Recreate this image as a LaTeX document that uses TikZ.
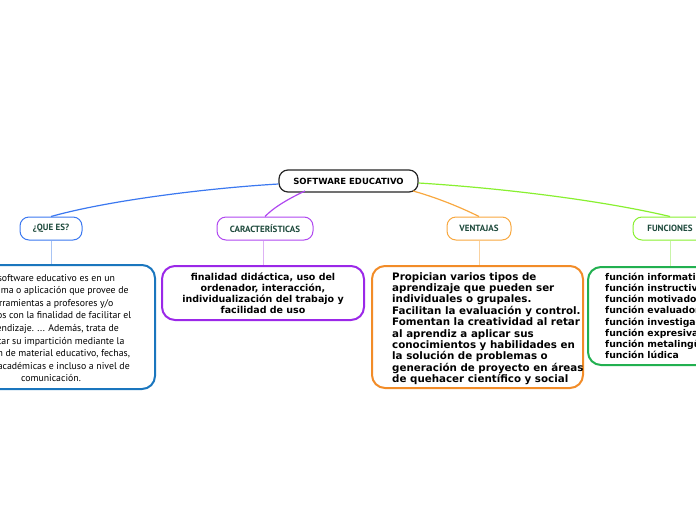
\documentclass[tikz,border=0pt]{standalone}
\usepackage{fontspec}
\setmainfont{DejaVu Sans}
\newfontfamily\labfont{PT Sans}
\newfontfamily\qfont{PT Sans}
\definecolor{cblue}{HTML}{3B78F0}
\definecolor{cbluel}{HTML}{A8C4F4}
\definecolor{cbluebox}{HTML}{1A76BE}
\definecolor{cpurple}{HTML}{B048F0}
\definecolor{cpurplel}{HTML}{DDB2F4}
\definecolor{cpurplebox}{HTML}{9B28E8}
\definecolor{corange}{HTML}{F8A840}
\definecolor{corangel}{HTML}{FAD2A0}
\definecolor{corangebox}{HTML}{F28C28}
\definecolor{cgreen}{HTML}{88F030}
\definecolor{cgreenl}{HTML}{C8F4A8}
\definecolor{cgreenbox}{HTML}{22B050}
\definecolor{labtxt}{HTML}{1E4A3C}
\begin{document}
\begin{tikzpicture}[x=1pt,y=-1pt,
  rootbox/.style={draw=black!85, fill=white, line width=1.2pt, rounded corners=9pt,
    minimum width=139pt, minimum height=22pt, inner sep=0pt,
    font=\fontsize{8.5}{10}\selectfont\bfseries},
  labbox/.style={fill=white, line width=1pt, rounded corners=9pt, minimum height=23pt,
    inner sep=0pt, text=labtxt, font=\fontsize{9}{10}\labfont\bfseries},
  bigbox/.style={fill=white, line width=2pt, rounded corners=13pt, inner sep=0pt},
  boldtxt/.style={inner sep=0pt, font=\fontsize{9.3}{11.1}\selectfont\bfseries},
  link/.style={line width=1.2pt},
  sublink/.style={line width=1pt}
]
\useasboundingbox (0,0) rectangle (696,520);
\clip (0,0) rectangle (696,520);

\coordinate (rw) at (279,184);
\coordinate (rbl) at (305,191);
\coordinate (rbr) at (413,191);
\coordinate (re) at (418,183);

\node[rootbox] (root) at (348.5,181) {SOFTWARE EDUCATIVO};

\node[labbox, draw=cblue, minimum width=62pt] (quees) at (51,228.5) {¿QUE ES?};
\node[labbox, draw=cpurple, minimum width=96pt] (carac) at (265,228.5) {CARACTERÍSTICAS};
\node[labbox, draw=corange, minimum width=64pt] (vent) at (479,228.5) {VENTAJAS};
\node[labbox, draw=cgreen, minimum width=74pt] (func) at (670,228.5) {FUNCIONES};

\draw[link, cblue] (root.west |- rw) .. controls (210,188) and (110,200) .. (quees.north);
\draw[link, cpurple] (rbl) .. controls (290,198) and (274,207) .. (carac.north);
\draw[link, corange] (rbr) .. controls (435,197) and (460,207) .. (vent.north);
\draw[link, cgreen] (root.east |- re) .. controls (500,188) and (600,200) .. (func.north);

\node[bigbox, draw=cbluebox, minimum width=208pt, minimum height=124pt] (qbox) at (51,327) {};
\node[inner sep=0pt, align=center, font=\fontsize{9.8}{12.6}\qfont] (qtext) at (51,328) {El software educativo es en un\\
programa o aplicación que provee de\\
herramientas a profesores y/o\\
alumnos con la finalidad de facilitar el\\
aprendizaje. ... Además, trata de\\
facilitar su impartición mediante la\\
gestión de material educativo, fechas,\\
notas académicas e incluso a nivel de\\
comunicación.};

\node[bigbox, draw=cpurplebox, minimum width=202pt, minimum height=54pt, align=center,
  font=\fontsize{9.5}{11}\selectfont\bfseries] (cbox) at (263,293) {finalidad didáctica, uso del\\
ordenador, interacción,\\
individualización del trabajo y\\
facilidad de uso};

\node[bigbox, draw=corangebox, minimum width=211pt, minimum height=122pt] (vbox) at (477.5,327) {};
\node[inner sep=0pt, anchor=north west, align=left, font=\fontsize{10.3}{11.4}\selectfont\bfseries] (vtext) at (392,272) {Propician varios tipos de\\
aprendizaje que pueden ser\\
individuales o grupales.\\
Facilitan la evaluación y control.\\
Fomentan la creatividad al retar\\
al aprendiz a aplicar sus\\
conocimientos y habilidades en\\
la solución de problemas o\\
generación de proyecto en áreas\\
de quehacer científico y social};

\node[bigbox, draw=cgreenbox, minimum width=164pt, minimum height=98pt] (fbox) at (670,316) {};
\node[boldtxt, anchor=north west, align=left] (ftext) at (605,273) {función informativa\\
función instructiva\\
función motivadora\\
función evaluadora\\
función investigadora\\
función expresiva\\
función metalingüística\\
función lúdica};

\draw[sublink, cbluel] (quees.south) -- (qbox.north);
\draw[sublink, cpurplel] (carac.south -| cbox.north) -- (cbox.north);
\draw[sublink, corangel] (vent.south) -- (vent.south |- vbox.north);
\draw[sublink, cgreenl] (func.south) -- (fbox.north);
\end{tikzpicture}
\end{document}
